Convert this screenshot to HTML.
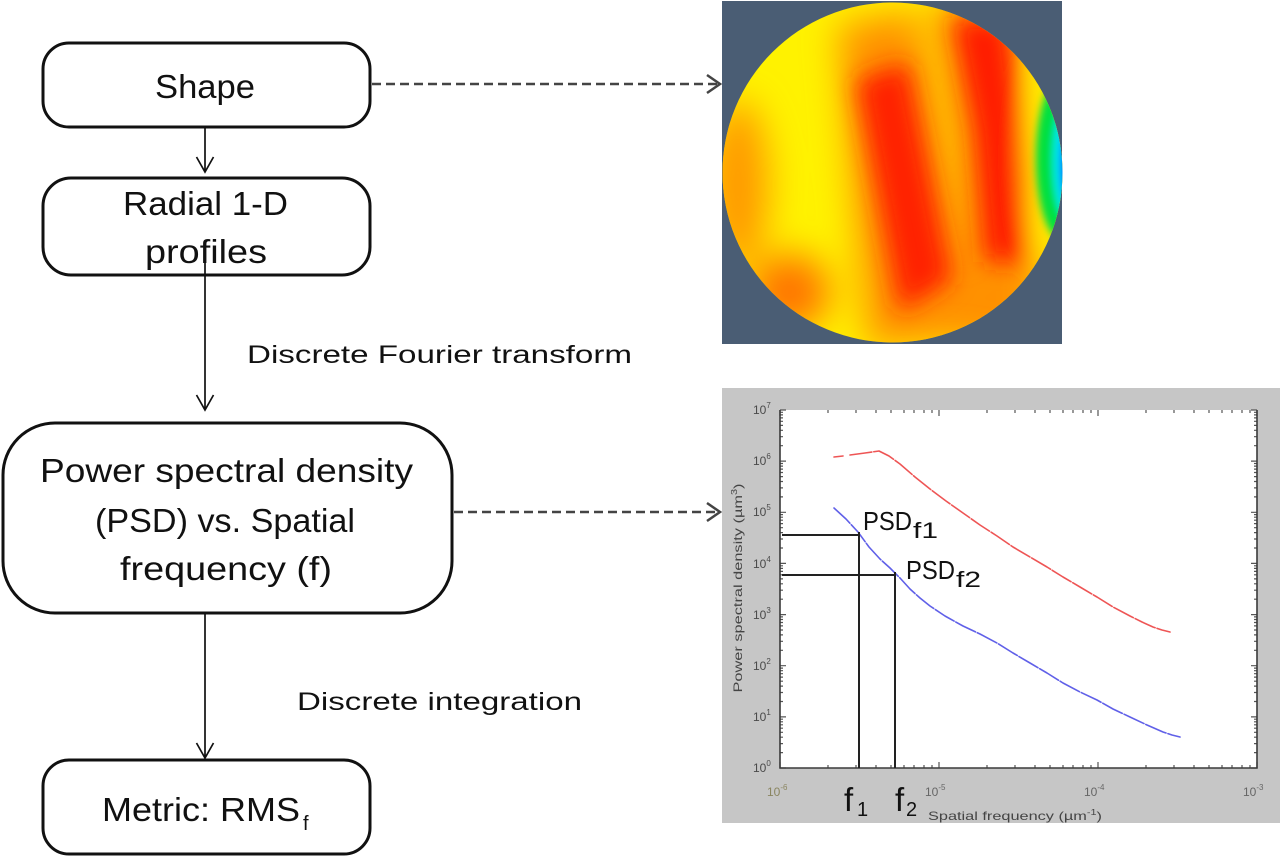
<!DOCTYPE html>
<html>
<head>
<meta charset="utf-8">
<style>
html,body{margin:0;padding:0;background:#fff;}
svg{display:block;}
</style>
</head>
<body>
<svg width="1280" height="858" viewBox="0 0 1280 858" xmlns="http://www.w3.org/2000/svg" font-family="'Liberation Sans', sans-serif">
<defs>
  <clipPath id="circ"><circle cx="892.5" cy="172.5" r="170"/></clipPath>
  <filter id="blurA" x="-50%" y="-50%" width="200%" height="200%"><feGaussianBlur stdDeviation="18"/></filter>
  <filter id="blurB" x="-50%" y="-50%" width="200%" height="200%"><feGaussianBlur stdDeviation="12"/></filter>
  <filter id="blurC" x="-50%" y="-50%" width="200%" height="200%"><feGaussianBlur stdDeviation="4"/></filter>
</defs>

<!-- ===== Flowchart boxes ===== -->
<g fill="none" stroke="#111" stroke-width="3">
  <rect x="43" y="43" width="327" height="84" rx="26"/>
  <rect x="43" y="178" width="327" height="97" rx="28"/>
  <rect x="3" y="423" width="449" height="190" rx="52"/>
  <rect x="43" y="760" width="327" height="94" rx="26"/>
</g>

<!-- vertical arrows -->
<g stroke="#111" stroke-width="1.7" fill="none">
  <path d="M205 127V171M196.5 157L205 172L213.5 157"/>
  <path d="M205 258V410M196.5 395L205 410L213.5 395"/>
  <path d="M205 613V758M196.5 743L205 758L213.5 743"/>
</g>

<!-- dashed arrows -->
<g stroke="#444" stroke-width="2.5" fill="none">
  <path d="M372 84H717" stroke-dasharray="9 5"/>
  <path d="M707 75L720 84L707 93"/>
  <path d="M454 512H717" stroke-dasharray="9 5"/>
  <path d="M707 503L720 512L707 521"/>
</g>

<!-- box texts -->
<g fill="#111" font-size="33">
  <text x="155" y="98" textLength="100" lengthAdjust="spacingAndGlyphs">Shape</text>
  <text x="123" y="215" textLength="165" lengthAdjust="spacingAndGlyphs">Radial 1-D</text>
  <text x="145" y="263" textLength="122" lengthAdjust="spacingAndGlyphs">profiles</text>
  <text x="40" y="482" textLength="373" lengthAdjust="spacingAndGlyphs">Power spectral density</text>
  <text x="95" y="532" textLength="260" lengthAdjust="spacingAndGlyphs">(PSD) vs. Spatial</text>
  <text x="120" y="580" textLength="212" lengthAdjust="spacingAndGlyphs">frequency (f)</text>
  <text x="102" y="821" textLength="198" lengthAdjust="spacingAndGlyphs">Metric: RMS</text>
  <text x="303" y="830" font-size="20">f</text>
</g>
<g fill="#111" font-size="25">
  <text x="247" y="363" textLength="385" lengthAdjust="spacingAndGlyphs">Discrete Fourier transform</text>
  <text x="297" y="710" textLength="285" lengthAdjust="spacingAndGlyphs">Discrete integration</text>
</g>

<!-- ===== Shape image ===== -->
<rect x="722" y="1" width="340" height="343" fill="#4a5d74"/>
<g clip-path="url(#circ)">
  <rect x="715" y="0" width="360" height="350" fill="#fff200"/>
  <g filter="url(#blurA)">
    <ellipse cx="738" cy="185" rx="30" ry="85" fill="#ff9800"/>
    <ellipse cx="790" cy="292" rx="40" ry="38" fill="#ff7400"/>
    <polygon points="838,25 918,10 978,340 868,348" fill="#ff9000"/>
    <polygon points="935,0 1012,0 1042,220 1038,348 972,348 958,160" fill="#ff9000"/>
  </g>
  <g filter="url(#blurB)">
    <polygon points="856,80 908,62 952,280 900,312" fill="#ff2000"/>
    <polygon points="952,18 1008,18 1027,180 1022,262 985,262 974,130" fill="#ff1e00"/>
    <ellipse cx="1048" cy="158" rx="22" ry="105" fill="#ffe800"/>
  </g>
  <g filter="url(#blurC)">
    <ellipse cx="1062" cy="158" rx="26" ry="82" fill="#00e040"/>
    <ellipse cx="1066" cy="160" rx="13" ry="58" fill="#00e8f0"/>
    <ellipse cx="1069" cy="165" rx="8" ry="40" fill="#0030ff"/>
  </g>
</g>

<!-- ===== PSD chart ===== -->
<rect x="722" y="388" width="558" height="435" fill="#c6c6c6"/>
<rect x="780" y="410" width="477" height="358" fill="#fff"/>

<!-- ticks -->
<g stroke="#555" stroke-width="1.2" fill="none">
  <g id="yt">
    <path d="M780 768h6M780 716.9h6M780 665.7h6M780 614.6h6M780 563.4h6M780 512.3h6M780 461.1h6M780 410h6"/>
    <path d="M780 752.6h3M780 743.6h3M780 737.2h3M780 732.3h3M780 728.2h3M780 724.8h3M780 721.8h3M780 719.2h3
             M780 701.5h3M780 692.5h3M780 686.1h3M780 681.2h3M780 677.1h3M780 673.7h3M780 670.7h3M780 668.1h3
             M780 650.3h3M780 641.3h3M780 634.9h3M780 630h3M780 625.9h3M780 622.5h3M780 619.5h3M780 616.9h3
             M780 599.2h3M780 590.2h3M780 583.8h3M780 578.9h3M780 574.8h3M780 571.4h3M780 568.4h3M780 565.8h3
             M780 548h3M780 539h3M780 532.6h3M780 527.7h3M780 523.6h3M780 520.2h3M780 517.2h3M780 514.6h3
             M780 496.9h3M780 487.9h3M780 481.5h3M780 476.6h3M780 472.5h3M780 469.1h3M780 466.1h3M780 463.5h3
             M780 445.7h3M780 436.7h3M780 430.3h3M780 425.4h3M780 421.3h3M780 417.9h3M780 414.9h3M780 412.3h3"/>
  </g>
  <use href="#yt" transform="translate(2037,0) scale(-1,1)"/>
  <g id="xt">
    <path d="M780 768v-6M939 768v-6M1098 768v-6M1257 768v-6"/>
    <path d="M828 768v-3M856 768v-3M876 768v-3M891 768v-3M904 768v-3M914 768v-3M924 768v-3M932 768v-3
             M987 768v-3M1015 768v-3M1035 768v-3M1050 768v-3M1063 768v-3M1073 768v-3M1083 768v-3M1091 768v-3
             M1146 768v-3M1174 768v-3M1194 768v-3M1209 768v-3M1222 768v-3M1232 768v-3M1242 768v-3M1250 768v-3"/>
  </g>
  <use href="#xt" transform="translate(0,1178) scale(1,-1)"/>
</g>

<!-- axes -->
<path d="M780 410V768H1257V410" stroke="#3a3a3a" stroke-width="1.6" fill="none"/>

<!-- curves -->
<g fill="none" stroke-width="1.6" stroke-linejoin="round" stroke-linecap="round">
  <polyline points="834,457 843,456" stroke="#ee5555"/>
  <polyline points="850,455 865,453 879,451 889,456 900,464 915,477 930,489 946,501 963,513 980,525 997,536 1013,547 1030,557 1047,567 1063,577 1080,587 1097,597 1113,607 1130,616 1142,622 1153,627 1162,630 1170,632" stroke="#ee5555" stroke-dasharray="22 2"/>
  <polyline points="834,508 846,519 858,532 869,547 880,559 890,568 900,578 910,589 920,598 930,606 945,616 963,626 980,634 997,643 1013,653 1030,663 1047,673 1063,683 1080,692 1097,700 1113,709 1130,717 1147,725 1163,732 1172,735 1180,737" stroke="#6060e8" stroke-dasharray="22 2"/>
</g>

<!-- PSD guide lines -->
<g stroke="#222" stroke-width="2" fill="none">
  <path d="M782 535H859M859 532V768"/>
  <path d="M782 575H895M895 572V768"/>
</g>

<!-- PSD labels -->
<g fill="#111" font-size="26">
  <text x="863" y="530" textLength="49" lengthAdjust="spacingAndGlyphs">PSD</text>
  <text x="913" y="538" font-size="22" textLength="25" lengthAdjust="spacingAndGlyphs">f1</text>
  <text x="906" y="579" textLength="49" lengthAdjust="spacingAndGlyphs">PSD</text>
  <text x="956" y="587" font-size="22" textLength="25" lengthAdjust="spacingAndGlyphs">f2</text>
  <text x="844" y="811" font-size="33">f</text>
  <text x="857" y="816" font-size="20">1</text>
  <text x="895" y="811" font-size="33">f</text>
  <text x="906" y="816" font-size="20">2</text>
</g>

<!-- y tick labels -->
<g fill="#4a4a4a" font-size="12">
  <text x="753" y="414">10<tspan font-size="8" dy="-6">7</tspan></text>
  <text x="753" y="465">10<tspan font-size="8" dy="-6">6</tspan></text>
  <text x="753" y="516">10<tspan font-size="8" dy="-6">5</tspan></text>
  <text x="753" y="568">10<tspan font-size="8" dy="-6">4</tspan></text>
  <text x="753" y="619">10<tspan font-size="8" dy="-6">3</tspan></text>
  <text x="753" y="670">10<tspan font-size="8" dy="-6">2</tspan></text>
  <text x="753" y="721">10<tspan font-size="8" dy="-6">1</tspan></text>
  <text x="753" y="772">10<tspan font-size="8" dy="-6">0</tspan></text>
</g>
<!-- x tick labels -->
<g fill="#666" font-size="12">
  <text x="767" y="796" fill="#8a8560">10<tspan font-size="8" dy="-6">-6</tspan></text>
  <text x="925" y="796">10<tspan font-size="8" dy="-6">-5</tspan></text>
  <text x="1084" y="796">10<tspan font-size="8" dy="-6">-4</tspan></text>
  <text x="1243" y="796">10<tspan font-size="8" dy="-6">-3</tspan></text>
</g>
<!-- axis titles -->
<text x="928" y="820" font-size="12" fill="#444" textLength="174" lengthAdjust="spacingAndGlyphs">Spatial frequency (µm<tspan font-size="8" dy="-5">-1</tspan><tspan dy="5">)</tspan></text>
<text transform="translate(742,588) rotate(-90)" text-anchor="middle" font-size="12" fill="#444" textLength="209" lengthAdjust="spacingAndGlyphs">Power spectral density (µm<tspan font-size="8" dy="-5">3</tspan><tspan dy="5">)</tspan></text>

</svg>
</body>
</html>
